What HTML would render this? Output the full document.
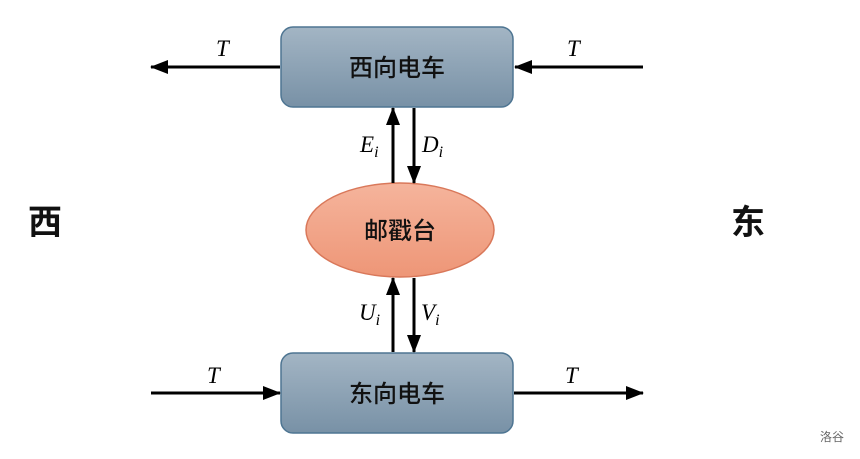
<!DOCTYPE html>
<html><head><meta charset="utf-8"><style>
html,body{margin:0;padding:0;background:#fff;}
svg text{font-family:"Liberation Sans","Noto Sans CJK SC",sans-serif;}
.it{font-family:"Liberation Serif",serif;font-style:italic;font-size:23px;}
</style></head><body>
<svg width="860" height="454" viewBox="0 0 860 454" xmlns="http://www.w3.org/2000/svg">
<defs>
<linearGradient id="bx" x1="0" y1="0" x2="0" y2="1"><stop offset="0" stop-color="#a3b5c4"/><stop offset="1" stop-color="#7891a6"/></linearGradient>
<linearGradient id="el" x1="0" y1="0" x2="0" y2="1"><stop offset="0" stop-color="#f5b49c"/><stop offset="1" stop-color="#ee9677"/></linearGradient>
<marker id="ah" viewBox="0 0 18 14" markerWidth="18" markerHeight="14" refX="17" refY="7" orient="auto" markerUnits="userSpaceOnUse"><path d="M0,0 L18,7 L0,14 z" fill="#000"/></marker>
</defs>
<rect x="281" y="27" width="232" height="80" rx="12" fill="url(#bx)" stroke="#4e7592" stroke-width="1.5"/>
<rect x="281" y="353" width="232" height="80" rx="12" fill="url(#bx)" stroke="#4e7592" stroke-width="1.5"/>
<ellipse cx="400" cy="230" rx="94" ry="47" fill="url(#el)" stroke="#d9785a" stroke-width="1.5"/>
<text x="397" y="76" font-size="24" font-weight="500" text-anchor="middle" fill="#111">西向电车</text>
<text x="397" y="402" font-size="24" font-weight="500" text-anchor="middle" fill="#111">东向电车</text>
<text x="400" y="239" font-size="24" font-weight="500" text-anchor="middle" fill="#111">邮戳台</text>
<text x="45" y="234" font-size="34" text-anchor="middle" fill="#111" font-weight="bold">西</text>
<text x="748" y="234" font-size="34" text-anchor="middle" fill="#111" font-weight="bold">东</text>
<g stroke="#000" stroke-width="3" fill="none">
<line x1="280" y1="67" x2="151" y2="67" marker-end="url(#ah)"/>
<line x1="643" y1="67" x2="515" y2="67" marker-end="url(#ah)"/>
<line x1="151" y1="393" x2="280" y2="393" marker-end="url(#ah)"/>
<line x1="514" y1="393" x2="643" y2="393" marker-end="url(#ah)"/>
<line x1="393" y1="183" x2="393" y2="108" marker-end="url(#ah)"/>
<line x1="414" y1="108" x2="414" y2="183" marker-end="url(#ah)"/>
<line x1="393" y1="352" x2="393" y2="278" marker-end="url(#ah)"/>
<line x1="414" y1="278" x2="414" y2="352" marker-end="url(#ah)"/>
</g>
<text class="it" x="216" y="56">T</text>
<text class="it" x="567" y="56">T</text>
<text class="it" x="207" y="383">T</text>
<text class="it" x="565" y="383">T</text>
<text class="it" x="360" y="152">E<tspan font-size="16" dy="5">i</tspan></text>
<text class="it" x="422" y="152">D<tspan font-size="16" dy="5">i</tspan></text>
<text class="it" x="359" y="320">U<tspan font-size="16" dy="5">i</tspan></text>
<text class="it" x="421" y="320">V<tspan font-size="16" dy="5">i</tspan></text>
<text x="832" y="441" font-size="12" text-anchor="middle" fill="#666">洛谷</text>
</svg>
</body></html>
